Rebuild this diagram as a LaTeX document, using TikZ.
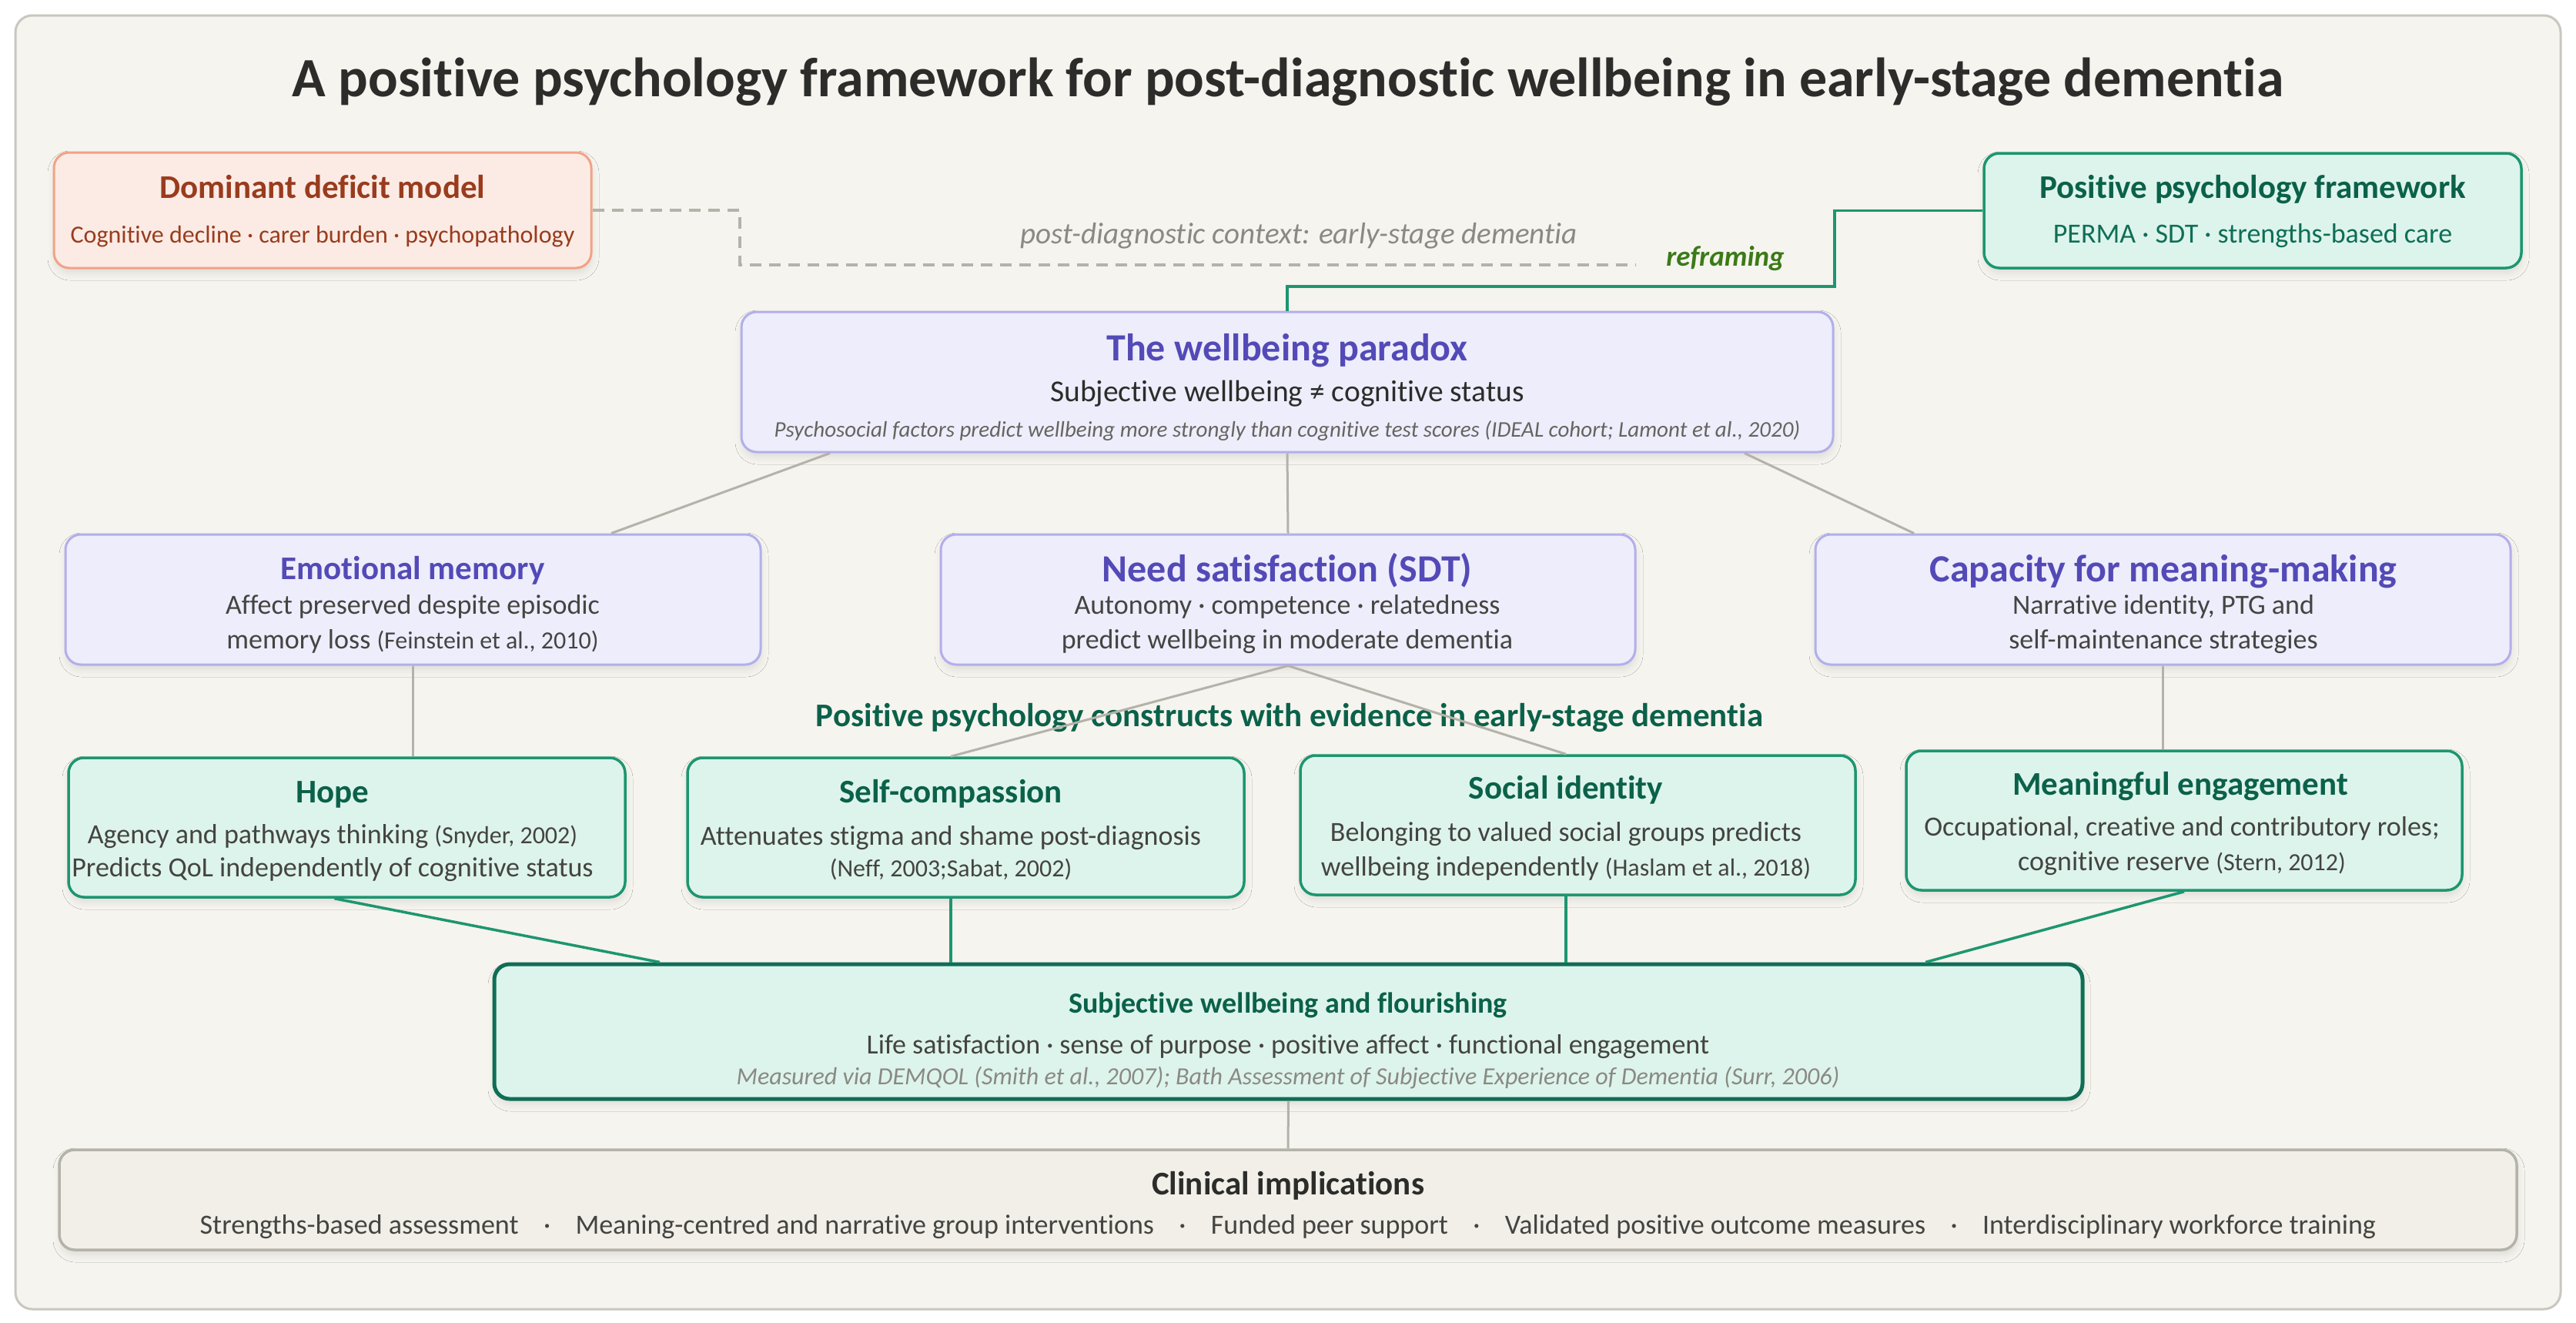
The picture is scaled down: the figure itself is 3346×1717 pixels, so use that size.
\documentclass[tikz,border=0pt]{standalone}
\usepackage{fontspec}
\setmainfont[Ligatures={NoCommon,NoContextual},Contextuals=NoAlternate]{Carlito}
\usetikzlibrary{shadows.blur}
\definecolor{pagebg}{HTML}{F6F4EF}
\definecolor{frameB}{HTML}{C9C7BF}
\definecolor{txtD}{HTML}{2C2C2A}
\definecolor{txtB}{HTML}{444441}
\definecolor{txtI}{HTML}{65645F}
\definecolor{txtC}{HTML}{8A8984}
\definecolor{defF}{HTML}{FCEBE5}
\definecolor{defB}{HTML}{F2A285}
\definecolor{defT}{HTML}{993C1D}
\definecolor{lavF}{HTML}{EEEDFC}
\definecolor{lavB}{HTML}{B3AEEA}
\definecolor{lavT}{HTML}{534AB7}
\definecolor{grF}{HTML}{DDF4EC}
\definecolor{grB}{HTML}{1D9670}
\definecolor{grD}{HTML}{0F6E56}
\definecolor{grT}{HTML}{0B6149}
\definecolor{refT}{HTML}{3B7A17}
\definecolor{gline}{HTML}{B4B2A9}
\definecolor{cliF}{HTML}{F1EFE8}
\newcommand{\fsz}[1]{\fontsize{#1}{#1}\selectfont}
\newcommand{\refcit}[1]{{\fsz{32}#1}}
\newcommand{\sepd}{\hspace{0.9em}·\hspace{0.9em}}
\begin{document}
\begin{tikzpicture}[x=1pt,y=-1pt,
  shad/.style={blur shadow={shadow xshift=1pt,shadow yshift=-7pt,shadow blur radius=9pt,shadow opacity=9}},
  boxbase/.style={inner sep=0pt,rounded corners=20pt,shad},
  defbox/.style={boxbase,draw=defB,fill=defF,line width=3pt},
  lavbox/.style={boxbase,draw=lavB,fill=lavF,line width=3pt},
  grbox/.style={boxbase,draw=grB,fill=grF,line width=3.5pt},
  flbox/.style={boxbase,draw=grD,fill=grF,line width=5pt},
  clbox/.style={boxbase,draw=gline,fill=cliF,line width=3.5pt},
  txt/.style={anchor=base,inner sep=0pt,align=center},
  ttlL/.style={txt,text=lavT,font=\bfseries\fsz{50}},
  ttlG/.style={txt,text=grT,font=\bfseries\fsz{43}},
  body/.style={txt,text=txtB,font=\fsz{36}},
  grayln/.style={draw=gline,line width=3pt},
  greenln/.style={draw=grB,line width=3.5pt},
  dashln/.style={draw=gline,line width=3.5pt,dash pattern=on 15pt off 10pt}
]
\useasboundingbox (0,0) rectangle (3346,1717);
\fill[white] (0,0) rectangle (3346,1717);
\node[draw=frameB,fill=pagebg,line width=3pt,rounded corners=22pt,minimum width=3306pt,minimum height=1680pt,inner sep=0pt] (frame) at (1673,860) {};

% title
\node[txt,text=txtD,font=\bfseries\fsz{72}] (title) at (1673,125) {A positive psychology framework for post-diagnostic wellbeing in early-stage dementia};

% top boxes
\node[defbox,minimum width=698pt,minimum height=150pt] (deficit) at (419,273) {};
\node[txt,text=defT,font=\bfseries\fsz{43}] (deficitT) at (419,257) {Dominant deficit model};
\node[txt,text=defT,font=\fsz{32}] (deficitS) at (419,315) {Cognitive decline · carer burden · psychopathology};

\node[grbox,minimum width=698pt,minimum height=149pt] (positive) at (2926,273.5) {};
\node[txt,text=grT,font=\bfseries\fsz{43}] (positiveT) at (2926,257) {Positive psychology framework};
\node[txt,text=grD,font=\fsz{36}] (positiveS) at (2926,315) {PERMA · SDT · strengths-based care};

\node[txt,text=txtC,font=\itshape\fsz{39}] (context) at (1687,316) {post-diagnostic context: early-stage dementia};
\node[txt,text=refT,font=\bfseries\itshape\fsz{37}] (reframe) at (2241,345) {reframing};
\coordinate (ctxend) at (2125,344);

% paradox
\node[lavbox,minimum width=1418pt,minimum height=182pt] (paradox) at (1672,496) {};
\node[ttlL] (paradoxT) at (1672,468) {The wellbeing paradox};
\node[body,text=txtD,font=\fsz{39.5}] (paradoxS) at (1672,521) {Subjective wellbeing ≠ cognitive status};
\node[txt,text=txtI,font=\itshape\fsz{29}] (paradoxI) at (1672,567) {Psychosocial factors predict wellbeing more strongly than cognitive test scores (IDEAL cohort; Lamont et al., 2020)};

% middle row
\node[lavbox,minimum width=903pt,minimum height=169pt] (emotional) at (536.5,778.5) {};
\node[ttlL,font=\bfseries\fsz{43}] (emotionalT) at (536,752) {Emotional memory};
\node[body] (emotional1) at (536,797) {Affect preserved despite episodic};
\node[body] (emotional2) at (536,842) {memory loss \refcit{(Feinstein et al., 2010)}};

\node[lavbox,minimum width=902pt,minimum height=169pt] (need) at (1673,778.5) {};
\node[ttlL] (needT) at (1672,755) {Need satisfaction (SDT)};
\node[body] (need1) at (1672,797) {Autonomy · competence · relatedness};
\node[body] (need2) at (1672,842) {predict wellbeing in moderate dementia};

\node[lavbox,minimum width=903pt,minimum height=169pt] (meaning) at (2809.5,778.5) {};
\node[ttlL] (meaningT) at (2810,755) {Capacity for meaning-making};
\node[body] (meaning1) at (2810,797) {Narrative identity, PTG and};
\node[body] (meaning2) at (2810,842) {self-maintenance strategies};

% section label
\node[txt,text=grT,font=\bfseries\fsz{43}] (section) at (1675,943) {Positive psychology constructs with evidence in early-stage dementia};

% green row
\node[grbox,minimum width=723pt,minimum height=181pt] (hope) at (450.5,1074.5) {};
\node[ttlG] (hopeT) at (432,1042) {Hope};
\node[body] (hope1) at (432,1095) {Agency and pathways thinking \refcit{(Snyder, 2002)}};
\node[body] (hope2) at (432,1138) {Predicts QoL independently of cognitive status};

\node[grbox,minimum width=723pt,minimum height=181pt] (selfc) at (1254.5,1074.5) {};
\node[ttlG] (selfcT) at (1235,1042) {Self-compassion};
\node[body] (selfc1) at (1235,1097) {Attenuates stigma and shame post-diagnosis};
\node[body] (selfc2) at (1235,1138) {\refcit{(Neff, 2003;Sabat, 2002)}};

\node[grbox,minimum width=721pt,minimum height=181pt] (social) at (2049.5,1071.5) {};
\node[ttlG] (socialT) at (2034,1037) {Social identity};
\node[body] (social1) at (2034,1092) {Belonging to valued social groups predicts};
\node[body] (social2) at (2034,1137) {wellbeing independently \refcit{(Haslam et al., 2018)}};

\node[grbox,minimum width=722pt,minimum height=181pt] (meaningful) at (2837,1065.5) {};
\node[ttlG] (meaningfulT) at (2832,1032) {Meaningful engagement};
\node[body] (meaningful1) at (2834,1085) {Occupational, creative and contributory roles;};
\node[body] (meaningful2) at (2834,1130) {cognitive reserve \refcit{(Stern, 2012)}};

% flourishing
\node[flbox,minimum width=2063pt,minimum height=175pt] (flour) at (1673.5,1339.5) {};
\node[txt,text=grT,font=\bfseries\fsz{38}] (flourT) at (1673,1315) {Subjective wellbeing and flourishing};
\node[body] (flour1) at (1673,1368) {Life satisfaction · sense of purpose · positive affect · functional engagement};
\node[txt,text=txtC,font=\itshape\fsz{32}] (flour2) at (1673,1408) {Measured via DEMQOL (Smith et al., 2007); Bath Assessment of Subjective Experience of Dementia (Surr, 2006)};

% clinical
\node[clbox,minimum width=3192pt,minimum height=130pt] (clinical) at (1673,1558) {};
\node[txt,text=txtD,font=\bfseries\fsz{43}] (clinicalT) at (1673,1551) {Clinical implications};
\node[body] (clinical1) at (1673,1602) {Strengths-based assessment\sepd Meaning-centred and narrative group interventions\sepd Funded peer support\sepd Validated positive outcome measures\sepd Interdisciplinary workforce training};

% connectors
\draw[dashln] (deficit.east) -| (961,344) -- (ctxend);
\draw[greenln] (positive.west) -| (2383,372) -| (paradox.north);
\draw[grayln] ([xshift=-594pt]paradox.south) -- ([xshift=257.5pt]emotional.north);
\draw[grayln] (paradox.south) -- (need.north);
\draw[grayln] ([xshift=594pt]paradox.south) -- ([xshift=-323.5pt]meaning.north);
\draw[grayln] (need.south) -- ([xshift=-19.5pt]selfc.north);
\draw[grayln] (need.south) -- ([xshift=-15.5pt]social.north);
\draw[grayln] (emotional.south) -- (emotional.south |- hope.north);
\draw[grayln] (meaning.south) -- (meaning.south |- meaningful.north);
\draw[greenln] ([xshift=-16pt]hope.south) -- ([xshift=-816.5pt]flour.north);
\draw[greenln] ([xshift=-19.5pt]selfc.south) -- ([xshift=-19.5pt]selfc.south |- flour.north);
\draw[greenln] ([xshift=-15.5pt]social.south) -- ([xshift=-15.5pt]social.south |- flour.north);
\draw[greenln] (meaningful.south) -- ([xshift=827.5pt]flour.north);
\draw[grayln] (flour.south) -- (clinical.north);
\end{tikzpicture}
\end{document}
